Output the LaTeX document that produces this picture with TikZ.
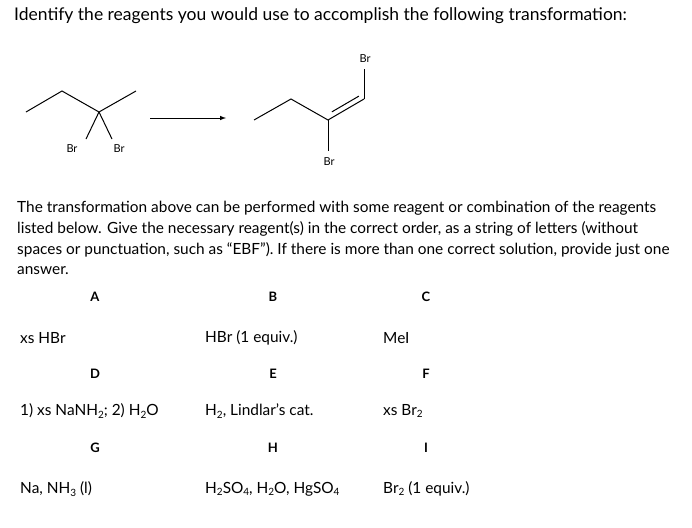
\documentclass[tikz,border=0pt]{standalone}
\usepackage{fontspec}
\setmainfont{Lato}
\usetikzlibrary{calc}
\newcommand{\mysub}[1]{\raisebox{-0.3ex}{\fontsize{10}{10}\selectfont #1}}
\begin{document}
\begin{tikzpicture}[x=1pt,y=-1pt,
  txt/.style={anchor=west,inner sep=0pt,font=\fontsize{15.4}{21}\selectfont},
  lab/.style={inner sep=0pt,font=\fontsize{13}{14}\selectfont\bfseries},
  br/.style={inner sep=0pt,font=\fontsize{11}{12}\selectfont},
  bond/.style={line width=1pt}]
\useasboundingbox (0,0) rectangle (692,527);
\node[txt,font=\fontsize{17.5}{21}\selectfont] (title) at (14,16) {Identify the reagents you would use to accomplish the following transformation:};
% left molecule
\coordinate (l1) at (26,112); \coordinate (l2) at (62,91); \coordinate (l3) at (99,112); \coordinate (l4) at (136,91);
\coordinate (b1) at (86,139); \coordinate (b2) at (112,139);
\draw[bond] (l1)--(l2)--(l3)--(l4);
\draw[bond] (l3)--(b1); \draw[bond] (l3)--(b2);
\node[br] (brl1) at (72,149) {Br};
\node[br] (brl2) at (119,149) {Br};
% arrow
\coordinate (a1) at (150,118); \coordinate (a2) at (226,118);
\draw[line width=1pt,-latex] (a1)--(a2);
% right molecule
\coordinate (r1) at (254,120); \coordinate (r2) at (291,99); \coordinate (r3) at (328,120); \coordinate (r4) at (364,99);
\draw[bond] (r1)--(r2)--(r3)--(r4);
\draw[bond] ($(r3)!0.15!(r4)+(-1.5,-5)$) -- ($(r3)!0.9!(r4)+(-1.5,-5)$);
\coordinate (t1) at (364,69); \coordinate (t2) at (328,151);
\draw[bond] (r4)--(t1); \draw[bond] (r3)--(t2);
\node[br] (brr1) at (365,59) {Br};
\node[br] (brr2) at (329,162) {Br};
% paragraph
\node[txt] (p1) at (17,208) {The transformation above can be performed with some reagent or combination of the reagents};
\node[txt] (p2) at (17,229) {listed below. Give the necessary reagent(s) in the correct order, as a string of letters (without};
\node[txt] (p3) at (17,250) {spaces or punctuation, such as “EBF”). If there is more than one correct solution, provide just one};
\node[txt] (p4) at (17,271) {answer.};
% table
\node[lab] (A) at (95,297) {A}; \node[lab] (B) at (273,297) {B}; \node[lab] (C) at (426,297) {C};
\node[txt] (a) at (20,338) {xs HBr}; \node[txt] (b) at (205,338) {HBr (1 equiv.)}; \node[txt] (c) at (383,338) {MeI};
\node[lab] (D) at (95,374) {D}; \node[lab] (E) at (273,374) {E}; \node[lab] (F) at (426,374) {F};
\node[txt] (d) at (20,411) {1) xs NaNH\mysub{2}; 2) H\mysub{2}O}; \node[txt] (e) at (205,411) {H\mysub{2}, Lindlar’s cat.}; \node[txt] (f) at (383,411) {xs Br\mysub{2}};
\node[lab] (G) at (95,448) {G}; \node[lab] (H) at (273,448) {H}; \node[lab] (I) at (426,448) {I};
\node[txt] (g) at (20,489) {Na, NH\mysub{3} (l)}; \node[txt] (h) at (205,489) {H\mysub{2}SO\mysub{4}, H\mysub{2}O, HgSO\mysub{4}}; \node[txt] (i) at (383,489) {Br\mysub{2} (1 equiv.)};
\end{tikzpicture}
\end{document}
